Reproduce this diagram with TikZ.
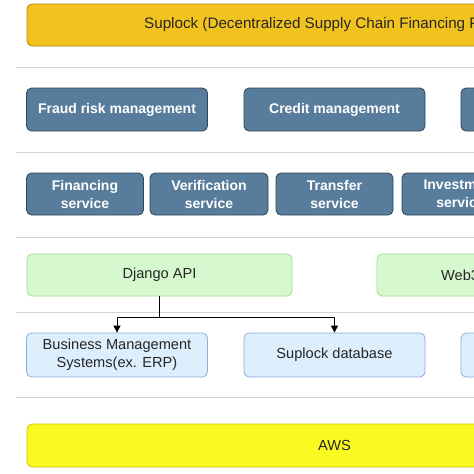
\documentclass[tikz,border=0pt]{standalone}
\usepackage{fontspec}
\setmainfont{Liberation Sans}
\usetikzlibrary{arrows.meta,positioning}
\definecolor{spGold}{HTML}{F2C21E}
\definecolor{spGoldLine}{HTML}{B8890C}
\definecolor{spSlate}{HTML}{587C9B}
\definecolor{spSlateLine}{HTML}{2E4457}
\definecolor{spGreen}{HTML}{D6F8CE}
\definecolor{spGreenLine}{HTML}{A3DC92}
\definecolor{spBlue}{HTML}{DDEEFC}
\definecolor{spBlueLine}{HTML}{93ACD8}
\definecolor{spLemon}{HTML}{FAFA22}
\definecolor{spLemonLine}{HTML}{D4C10A}
\definecolor{spRule}{HTML}{D2D2D2}
\definecolor{spInk}{HTML}{262626}
\tikzset{
  sp diagram/.style={x=1pt, y=-1pt, font=\fontsize{14.6}{18}\selectfont,
    text=spInk, line join=round},
  sp box/.style={rounded corners=5pt, line width=0.8pt, align=center,
    inner sep=0pt},
  sp title box/.style={sp box, draw=spGoldLine, fill=spGold,
    minimum width=700pt, minimum height=42pt},
  sp module box/.style={sp box, draw=spSlateLine, fill=spSlate,
    text=white, font=\fontsize{14}{18}\selectfont\bfseries,
    minimum width=181pt, minimum height=43pt},
  sp service box/.style={sp module box, minimum width=117pt,
    minimum height=42pt},
  sp api box/.style={sp box, draw=spGreenLine, fill=spGreen,
    minimum width=265pt, minimum height=42pt},
  sp data box/.style={sp box, draw=spBlueLine, fill=spBlue,
    minimum width=181pt, minimum height=44pt},
  sp cloud box/.style={sp box, draw=spLemonLine, fill=spLemon,
    minimum width=700pt, minimum height=43pt},
  sp rule/.style={draw=spRule, line width=0.9pt},
  sp arrow/.style={-{Triangle[length=7pt,width=7pt]}, draw=black,
    line width=1pt}
}
\begin{document}
\begin{tikzpicture}[sp diagram]
\useasboundingbox (0,0) rectangle (474,474);
\clip (0,0) rectangle (474,474);
\fill[white] (0,0) rectangle (474,474);
% layer separators
\foreach \ry in {67,152,237,312,397}
  \draw[sp rule] (16,\ry) -- (480,\ry);
% platform
\node[sp title box] (platform) at (377,25) {};
\node[anchor=west, inner sep=0pt, font=\fontsize{15.2}{18}\selectfont] (platformtext) at (144,25)
  {Suplock (Decentralized Supply Chain Financing P};
% management modules
\node[sp module box] (fraud) at (117,109.5) {Fraud risk management};
\node[sp module box] (credit) at (334.5,109.5) {Credit management};
\node[sp module box] (module3) at (551.5,109.5) {};
% services
\node[sp service box] (financing) at (85,194) {Financing\\service};
\node[sp service box, minimum width=118pt] (verification) at (209,194) {Verification\\service};
\node[sp service box] (transfer) at (334.5,194) {Transfer\\service};
\node[sp service box] (investment) at (460.5,194) {Investment\\service};
% interfaces
\node[sp api box] (django) at (159.5,275) {Django API};
\node[sp api box] (web3) at (509.5,275) {};
\node[anchor=west, inner sep=0pt] (web3text) at (441,275) {Web3};
% data sources
\node[sp data box] (bms) at (117,355) {Business Management\\Systems(ex. ERP)};
\node[sp data box] (db) at (334.5,355) {Suplock database};
\node[sp data box] (data3) at (551.5,355) {};
% cloud
\node[sp cloud box] (aws) at (377,445.5) {};
\node (awstext) at (334.5,445.5) {AWS};
\draw[sp arrow] (django.south) -- ++(0,21) -| (bms.north);
\draw[sp arrow] (django.south) -- ++(0,21) -| (db.north);
\end{tikzpicture}
\end{document}
